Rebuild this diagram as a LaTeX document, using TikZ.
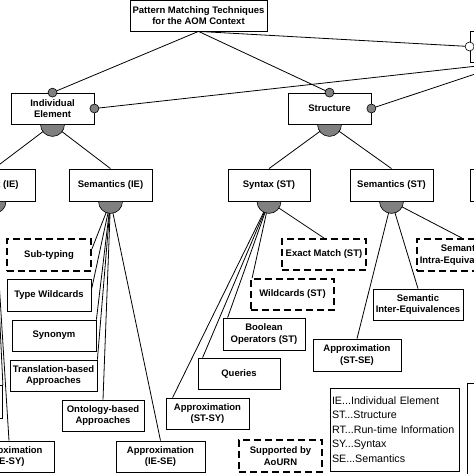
\documentclass[tikz,border=0pt]{standalone}
\usepackage{fontspec}
\setmainfont{Liberation Sans}
\usepackage{tikz}
\definecolor{knobgray}{RGB}{128,128,128}
\tikzstyle{mybox} = [draw=black, fill=white, line width=0.8pt, rectangle, inner sep=0pt, align=center, minimum width=83pt, minimum height=31pt, font=\fontsize{9.5}{11.5}\selectfont\bfseries]
\tikzstyle{mydashbox} = [mybox, line width=1.8pt, dash pattern=on 7pt off 4pt]
\tikzstyle{mylegend} = [mybox, align=left, text width=125pt, minimum width=129pt, minimum height=83pt, font=\fontsize{10.7}{14.5}\selectfont]
\tikzstyle{myknob} = [draw=black, fill=knobgray, circle, line width=0.6pt, inner sep=0pt, minimum size=9pt]
\tikzstyle{myoptknob} = [myknob, fill=white]
\tikzstyle{myline} = [line width=0.8pt]
\newcommand{\groupknob}[1]{\filldraw[fill=knobgray, draw=black, line width=0.6pt] ([xshift=-12pt]#1) arc (180:0:12) -- cycle;}

\begin{document}
\begin{tikzpicture}[x=1pt,y=-1pt]
\useasboundingbox (0,0) rectangle (474,474);
\clip (0,0) rectangle (474,474);
% top levels
\node[mybox, minimum width=137pt, minimum height=30.5pt] (root) at (198.5,15.75) {Pattern Matching Techniques\\for the AOM Context};
\node[mybox, minimum width=80pt] (runtime) at (510,46.5) {};
\node[mybox] (indiv) at (52.5,108.5) {Individual\\Element};
\node[mybox] (struct) at (329.5,108.5) {Structure};
% second level
\node[mybox, minimum height=32pt] (synie) at (-6,185) {Syntax (IE)};
\node[mybox, minimum height=32pt] (semie) at (110.5,185) {Semantics (IE)};
\node[mybox, minimum width=82pt, minimum height=32pt] (synst) at (269,185) {Syntax (ST)};
\node[mybox, minimum height=32pt] (semst) at (391.5,185) {Semantics (ST)};
\node[mybox, minimum height=32pt] (rtchild) at (512,185) {};
% leaves of IE
\node[mybox, minimum height=33pt] (ieleft) at (-39,402) {};
\node[mybox, minimum width=90pt] (approxiesy) at (9,456.5) {Approximation\\(IE-SY)};
\node[mydashbox, minimum width=84pt, minimum height=32pt] (subtyping) at (49,255) {Sub-typing};
\node[mybox, minimum width=84pt, minimum height=32pt] (typewc) at (49,295) {Type Wildcards};
\node[mybox, minimum width=84pt] (synonym) at (54,335.5) {Synonym};
\node[mybox, minimum width=87pt] (translation) at (53.5,375.5) {Translation-based\\Approaches};
\node[mybox, minimum width=82pt] (ontology) at (103,415.5) {Ontology-based\\Approaches};
\node[mybox, minimum width=89pt] (approxiese) at (160.5,456.5) {Approximation\\(IE-SE)};
% leaves of ST
\node[mydashbox, minimum width=84pt] (exact) at (324,254.5) {Exact Match (ST)};
\node[mydashbox] (wildst) at (292.5,294.5) {Wildcards (ST)};
\node[mybox, minimum width=82pt, minimum height=32pt] (boolean) at (264,334) {Boolean\\Operators (ST)};
\node[mybox, minimum width=82pt] (queries) at (239,373.5) {Queries};
\node[mybox] (approxstsy) at (207.5,413.5) {Approximation\\(ST-SY)};
\node[mydashbox, minimum width=90pt, minimum height=32pt] (intra) at (462,255) {Semantic\\Intra-Equivalences};
\node[mybox, minimum width=90pt] (inter) at (418,304.5) {Semantic\\Inter-Equivalences};
\node[mybox, minimum width=88pt, minimum height=32pt] (approxstse) at (357,355) {Approximation\\(ST-SE)};
% legend
\node[mydashbox, minimum height=32pt] (aourn) at (280.5,456) {Supported by\\AoURN};
\node[mylegend] (legend) at (394.5,429.5) {IE...Individual Element\\ST...Structure\\RT...Run-time Information\\SY...Syntax\\SE...Semantics};
\node[mybox, minimum height=110pt] (rightbox) at (508.5,438) {};

% connectors
\draw[myline] (root.south) -- (indiv.north);
\draw[myline] (root.south) -- (struct.north);
\draw[myline] (root.south) -- (runtime.west);
\draw[myline] (runtime.south) -- (indiv.east);
\draw[myline] (runtime.south) -- (struct.east);
\draw[myline] (indiv.south) -- (synie.north);
\draw[myline] (indiv.south) -- (semie.north);
\draw[myline] (struct.south) -- (synst.north);
\draw[myline] (struct.south) -- (semst.north);
\draw[myline] (synie.south) -- (ieleft.north east);
\draw[myline] (synie.south) -- (approxiesy.north);
\draw[myline] (semie.south) -- ([yshift=6pt]subtyping.east);
\draw[myline] (semie.south) -- ([yshift=5pt]typewc.east);
\draw[myline] (semie.south) -- (synonym.north east);
\draw[myline] (semie.south) -- (translation.north east);
\draw[myline] (semie.south) -- (ontology.north);
\draw[myline] (semie.south) -- (approxiese.north);
\draw[myline] (synst.south) -- (exact.north);
\draw[myline] (synst.south) -- ([xshift=2pt]wildst.north west);
\draw[myline] (synst.south) -- ([xshift=5pt]boolean.north west);
\draw[myline] (synst.south) -- ([xshift=5pt]queries.north west);
\draw[myline] (synst.south) -- ([xshift=7pt]approxstsy.north west);
\draw[myline] (semst.south) -- (intra.north);
\draw[myline] (semst.south) -- (inter.north);
\draw[myline] (semst.south) -- (approxstse.north);

% knobs
\node[myknob] at (indiv.north) {};
\node[myknob] at (indiv.east) {};
\node[myknob] at (struct.north) {};
\node[myknob] at (struct.east) {};
\node[myoptknob] at (runtime.west) {};
\node[myknob] at (runtime.south) {};
\groupknob{indiv.south}
\groupknob{struct.south}
\groupknob{synie.south}
\groupknob{semie.south}
\groupknob{synst.south}
\groupknob{semst.south}
\end{tikzpicture}
\end{document}
